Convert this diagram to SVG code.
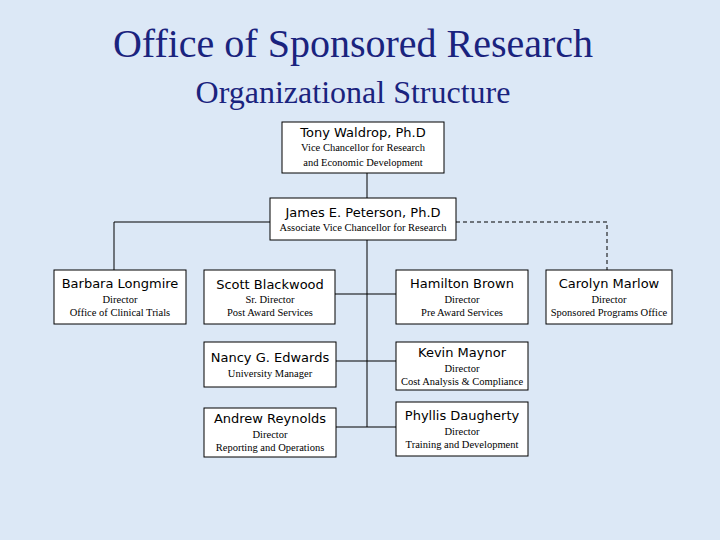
<svg xmlns="http://www.w3.org/2000/svg" width="720" height="540" viewBox="0 0 720 540">
<style>
.b{fill:#fff;stroke:#000;stroke-width:1}
.n{font-family:"DejaVu Sans",sans-serif;font-size:13px;text-anchor:middle;fill:#000}
.s{font-family:"Liberation Serif",serif;font-size:10.5px;text-anchor:middle;fill:#000}
.t{font-family:"Liberation Serif",serif;text-anchor:middle;fill:#1a237e}
.l{stroke:#000;stroke-width:1;fill:none}
</style>
<rect width="720" height="540" fill="#dce8f6"/>
<text class="t" x="353" y="57" font-size="40">Office of Sponsored Research</text>
<text class="t" x="353" y="103" font-size="32">Organizational Structure</text>
<g id="connectors">
<path class="l" d="M367 173V198M367 240V427M270 222H114V270M335 294H396M336 361H396M336 427H396"/>
<path class="l" d="M456 222H607V270" stroke-dasharray="4,3"/>
</g>
<g id="tony"><rect class="b" x="282" y="122" width="162" height="51"/><text class="n" x="363" y="137">Tony Waldrop, Ph.D</text><text class="s" x="363" y="151">Vice Chancellor for Research</text><text class="s" x="363" y="166">and Economic Development</text></g>
<g id="james"><rect class="b" x="270" y="198" width="186" height="42"/><text class="n" x="363" y="217">James E. Peterson, Ph.D</text><text class="s" x="363" y="231">Associate Vice Chancellor for Research</text></g>
<g id="barbara"><rect class="b" x="54" y="270" width="132" height="54"/><text class="n" x="120" y="288">Barbara Longmire</text><text class="s" x="120" y="303">Director</text><text class="s" x="120" y="316">Office of Clinical Trials</text></g>
<g id="scott"><rect class="b" x="204" y="270" width="131" height="54"/><text class="n" x="270" y="289">Scott Blackwood</text><text class="s" x="270" y="303">Sr. Director</text><text class="s" x="270" y="316">Post Award Services</text></g>
<g id="hamilton"><rect class="b" x="396" y="270" width="132" height="54"/><text class="n" x="462" y="288">Hamilton Brown</text><text class="s" x="462" y="303">Director</text><text class="s" x="462" y="316">Pre Award Services</text></g>
<g id="carolyn"><rect class="b" x="546" y="270" width="126" height="54"/><text class="n" x="609" y="288">Carolyn Marlow</text><text class="s" x="609" y="303">Director</text><text class="s" x="609" y="316">Sponsored Programs Office</text></g>
<g id="nancy"><rect class="b" x="204" y="342" width="132" height="45"/><text class="n" x="270" y="362">Nancy G. Edwards</text><text class="s" x="270" y="377">University Manager</text></g>
<g id="kevin"><rect class="b" x="396" y="342" width="132" height="48"/><text class="n" x="462" y="357">Kevin Maynor</text><text class="s" x="462" y="372">Director</text><text class="s" x="462" y="385">Cost Analysis &amp; Compliance</text></g>
<g id="andrew"><rect class="b" x="204" y="408" width="132" height="49"/><text class="n" x="270" y="423">Andrew Reynolds</text><text class="s" x="270" y="438">Director</text><text class="s" x="270" y="451">Reporting and Operations</text></g>
<g id="phyllis"><rect class="b" x="396" y="402" width="132" height="54"/><text class="n" x="462" y="420">Phyllis Daugherty</text><text class="s" x="462" y="435">Director</text><text class="s" x="462" y="448">Training and Development</text></g>
</svg>
